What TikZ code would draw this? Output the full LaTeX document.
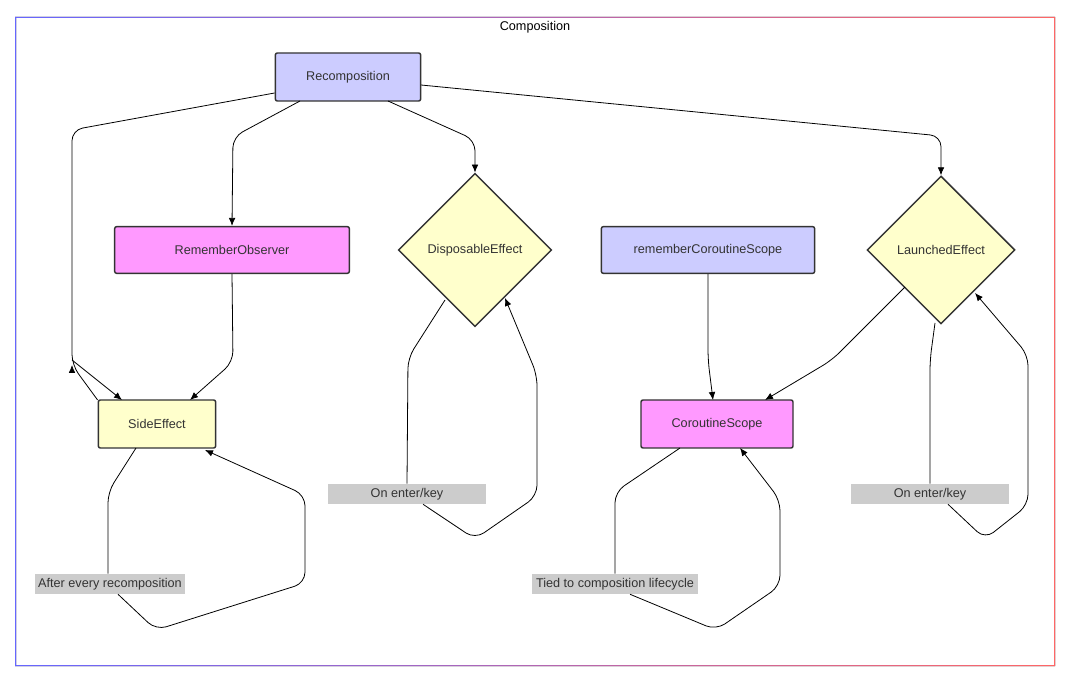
\documentclass[tikz,border=0pt]{standalone}
\usepackage{fontspec}
\setmainfont{Liberation Sans}
\usetikzlibrary{shapes.geometric,arrows.meta}
\definecolor{blueish}{HTML}{CCCCFF}
\definecolor{pinkish}{HTML}{FF99FF}
\definecolor{yellowish}{HTML}{FFFFCC}
\definecolor{labelgray}{HTML}{CCCCCC}
\definecolor{boxline}{HTML}{333333}
\begin{document}
\begin{tikzpicture}[x=0.75pt,y=-0.75pt,
  every node/.style={font=\fontsize{9.5}{11}\selectfont, text=boxline},
  box/.style={rectangle,draw=boxline,line width=1.1pt,rounded corners=1.5pt,inner sep=0pt},
  dia/.style={diamond,draw=boxline,line width=1.1pt,fill=yellowish,inner sep=0pt,aspect=1},
  lab/.style={fill=labelgray,inner sep=0pt,minimum height=15pt},
  edge/.style={line width=0.6pt,rounded corners=8pt,-{Latex[length=6pt,width=5pt]}},
  line/.style={line width=0.6pt,rounded corners=8pt}]
\useasboundingbox (0,0) rectangle (1074,680);
% frame
\fill[left color=blue!60,right color=red!60,even odd rule] (15,17) rectangle (1055,666) (16,18) rectangle (1054,665);
\node[text=black] (title) at (535,27) {Composition};
% nodes
\node[box,fill=blueish,minimum width=109pt,minimum height=36pt] (rec) at (348,77) {Recomposition};
\node[box,fill=pinkish,minimum width=176pt,minimum height=35pt] (ro) at (232,250) {RememberObserver};
\node[dia,minimum width=115pt,minimum height=115pt] (de) at (475,250) {DisposableEffect};
\node[box,fill=blueish,minimum width=160pt,minimum height=35pt] (rcs) at (708,250) {rememberCoroutineScope};
\node[dia,minimum width=111pt,minimum height=111pt] (le) at (941,250) {LaunchedEffect};
\node[box,fill=yellowish,minimum width=88pt,minimum height=36pt] (se) at (157,424) {SideEffect};
\node[box,fill=pinkish,minimum width=114pt,minimum height=36pt] (cs) at (717,424) {CoroutineScope};
% labels
\node[lab,minimum width=112pt] (l1) at (110,584) {After every recomposition};
\node[lab,minimum width=118pt] (l2) at (407,494) {On enter/key};
\node[lab,minimum width=124pt] (l3) at (615,584) {Tied to composition lifecycle};
\node[lab,minimum width=118pt] (l4) at (930,494) {On enter/key};
% edges from Recomposition
\draw[edge] (rec.west|-0,93) -- (72,130) -- (72,365) -- (se.north west|-0,400) ++(24,0) coordinate (a) (72,365) ;
\draw[edge] (72,360) -- (122,400);
\draw[edge] (300,101) -- (233,137) -- (ro.north);
\draw[edge] (388,101) -- (475,140) -- (de.north);
\draw[edge] (421,85) -- (941,136) -- (le.north);
% RememberObserver -> SideEffect
\draw[edge] (ro.south) -- (233,362) -- (190,400);
% SideEffect loop
\draw[line] (136,448) -- (108,492) -- (l1.north-|108,0);
\draw[edge] (l1.south-|118,0) -- (156,630) -- (305,583) -- (305,495) -- (205,450);
% DisposableEffect loop
\draw[line] (445,300) -- (408,358) -- (l2.north);
\draw[edge] (l2.south-|423,0) -- (475,539) -- (537,496) -- (537,375) -- (505,298);
% rememberCoroutineScope -> CoroutineScope
\draw[edge] (rcs.south) -- (708,360) -- (713,400);
% LaunchedEffect -> CoroutineScope
\draw[edge] (905,287) -- (832,360) -- (765,400);
% CoroutineScope loop
\draw[line] (680,448) -- (615,492) -- (l3.north);
\draw[edge] (l3.south-|630,0) -- (716,630) -- (780,586) -- (780,500) -- (740,448);
% LaunchedEffect loop
\draw[line] (935,323) -- (930,360) -- (l4.north);
\draw[edge] (l4.south-|948,0) -- (985,539) -- (1028,505) -- (1028,355) -- (975,293);
\end{tikzpicture}
\end{document}
